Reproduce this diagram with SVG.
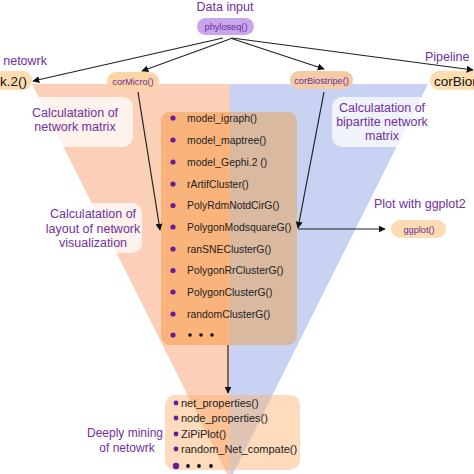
<svg xmlns="http://www.w3.org/2000/svg" width="474" height="474" viewBox="0 0 474 474">
<style>
.lab{font-family:"Liberation Sans",Arial,sans-serif;font-size:12.5px;fill:#7030A0}
.big{font-family:"Liberation Sans",Arial,sans-serif;font-size:13.5px;fill:#111}
.pill{font-family:"Liberation Sans",Arial,sans-serif;font-size:9.2px;fill:#6A2C9A;text-anchor:middle}
.item{font-family:"Liberation Sans",Arial,sans-serif;font-size:10.4px;fill:#222}
.item2{font-family:"Liberation Sans",Arial,sans-serif;font-size:11px;fill:#222}
.bul{fill:#6A1B9A}
.dot{fill:#111}
.conn{stroke:#222;stroke-width:1.2;fill:none;marker-end:url(#ah)}
.wbox{fill:#ffffff;fill-opacity:0.72}
</style>
<defs>
<marker id="ah" viewBox="0 0 10 10" refX="9" refY="5" markerWidth="7" markerHeight="7" orient="auto" markerUnits="userSpaceOnUse">
<path d="M0,0 L10,5 L0,10 z" fill="#111"/>
</marker>
<clipPath id="leftHalf"><rect x="0" y="0" width="230" height="474"/></clipPath>
</defs>
<rect width="474" height="474" fill="#ffffff"/>
<g id="funnel">
<polygon points="32,84 230,84 230,480" fill="#FCCFB9"/>
<polygon points="230,84 428,84 230,480" fill="#C8D3F3"/>
</g>
<g id="label-network-matrix">
<rect class="wbox" x="25" y="97" width="108" height="50" rx="10"/>
<text class="lab" x="75" y="117" text-anchor="middle">Calculatation of</text>
<text class="lab" x="75" y="131" text-anchor="middle">network matrix</text>
</g>
<g id="label-bipartite">
<rect class="wbox" x="332" y="97" width="110" height="50" rx="10"/>
<text class="lab" x="382" y="112" text-anchor="middle">Calculatation of</text>
<text class="lab" x="382" y="126" text-anchor="middle">bipartite network</text>
<text class="lab" x="382" y="140" text-anchor="middle">matrix</text>
</g>
<g id="label-layout">
<rect class="wbox" x="43" y="203" width="99" height="50" rx="10"/>
<text class="lab" x="93" y="218" text-anchor="middle">Calculatation of</text>
<text class="lab" x="93" y="233" text-anchor="middle">layout of network</text>
<text class="lab" x="93" y="247" text-anchor="middle">visualization</text>
</g>
<g id="layout-list">
<rect x="161" y="112" width="136" height="233" rx="9" fill="#D9B9A0"/>
<rect x="161" y="112" width="136" height="233" rx="9" fill="#FAB37B" clip-path="url(#leftHalf)"/>
<circle class="bul" cx="173" cy="118" r="2.6"/><text class="item" x="187" y="121.8">model_igraph()</text>
<circle class="bul" cx="173" cy="140" r="2.6"/><text class="item" x="187" y="143.8">model_maptree()</text>
<circle class="bul" cx="173" cy="162" r="2.6"/><text class="item" x="187" y="165.8">model_Gephi.2 ()</text>
<circle class="bul" cx="173" cy="184" r="2.6"/><text class="item" x="187" y="187.8">rArtifCluster()</text>
<circle class="bul" cx="173" cy="205.5" r="2.6"/><text class="item" x="187" y="209.3">PolyRdmNotdCirG()</text>
<circle class="bul" cx="173" cy="227" r="2.6"/><text class="item" x="187" y="230.8">PolygonModsquareG()</text>
<circle class="bul" cx="173" cy="249" r="2.6"/><text class="item" x="187" y="252.8">ranSNEClusterG()</text>
<circle class="bul" cx="173" cy="270.5" r="2.6"/><text class="item" x="187" y="274.3">PolygonRrClusterG()</text>
<circle class="bul" cx="173" cy="292" r="2.6"/><text class="item" x="187" y="295.8">PolygonClusterG()</text>
<circle class="bul" cx="173" cy="314" r="2.6"/><text class="item" x="187" y="317.8">randomClusterG()</text>
<circle class="bul" cx="173" cy="335" r="2.6"/>
<circle class="dot" cx="190" cy="335" r="1.8"/><circle class="dot" cx="201" cy="335" r="1.8"/><circle class="dot" cx="212" cy="335" r="1.8"/>
</g>
<g id="mining-list">
<rect x="165" y="395" width="135" height="75" rx="10" fill="#FAB06A" fill-opacity="0.45"/>
<circle class="bul" cx="176" cy="403" r="2.4"/><text class="item2" x="181" y="407">net_properties()</text>
<circle class="bul" cx="176" cy="418" r="2.4"/><text class="item2" x="181" y="422">node_properties()</text>
<circle class="bul" cx="176" cy="434" r="2.4"/><text class="item2" x="181" y="438">ZiPiPlot()</text>
<circle class="bul" cx="176" cy="449" r="2.4"/><text class="item2" x="181" y="453">random_Net_compate()</text>
<circle class="bul" cx="176" cy="466" r="3.2"/>
<circle class="dot" cx="188" cy="466" r="1.9"/><circle class="dot" cx="199" cy="466" r="1.9"/><circle class="dot" cx="211" cy="466" r="1.9"/>
</g>
<g id="label-mining">
<text class="lab" x="125" y="437" text-anchor="middle" style="font-size:12px">Deeply mining</text>
<text class="lab" x="127" y="452" text-anchor="middle" style="font-size:12px">of netowrk</text>
</g>
<g id="node-phyloseq">
<text class="lab" x="225" y="11" text-anchor="middle">Data input</text>
<rect x="197" y="18" width="57" height="17" rx="8.5" fill="#C9A6EC"/>
<text class="pill" x="226" y="30">phyloseq()</text>
</g>
<g id="node-k2">
<text class="lab" x="47" y="65" text-anchor="end">of netowrk</text>
<rect x="-20" y="71" width="52" height="19" rx="9" fill="#FDDDB1"/>
<text class="big" x="27" y="86" text-anchor="end">k.2()</text>
</g>
<g id="node-corMicro">
<rect x="107" y="72" width="52" height="18" rx="9" fill="#FCD4A6"/>
<text class="pill" x="133" y="84.5">corMicro()</text>
</g>
<g id="node-corBiostripe">
<rect x="290" y="71" width="63" height="18" rx="9" fill="#F3CBA6"/>
<text class="pill" x="321.5" y="83.5">corBiostripe()</text>
</g>
<g id="node-corBion">
<text class="lab" x="425" y="61">Pipeline</text>
<rect x="430" y="71" width="60" height="19" rx="9" fill="#FDDDB1"/>
<text class="big" x="434" y="86">corBion</text>
</g>
<g id="node-ggplot">
<text class="lab" x="374" y="208">Plot with ggplot2</text>
<rect x="391" y="220" width="55" height="18" rx="9" fill="#FDDCB3"/>
<text class="pill" x="419" y="232.5">ggplot()</text>
</g>
<g id="connectors">
<line class="conn" x1="223" y1="38" x2="33" y2="81"/>
<line class="conn" x1="230" y1="39" x2="142" y2="71"/>
<line class="conn" x1="230" y1="38" x2="324" y2="69"/>
<line class="conn" x1="232" y1="38" x2="473" y2="70"/>
<line class="conn" x1="138" y1="92" x2="160" y2="230"/>
<line class="conn" x1="324" y1="92" x2="298" y2="228"/>
<line class="conn" x1="298" y1="229" x2="385" y2="229"/>
<line class="conn" x1="228" y1="345" x2="228" y2="393"/>
</g>
</svg>
